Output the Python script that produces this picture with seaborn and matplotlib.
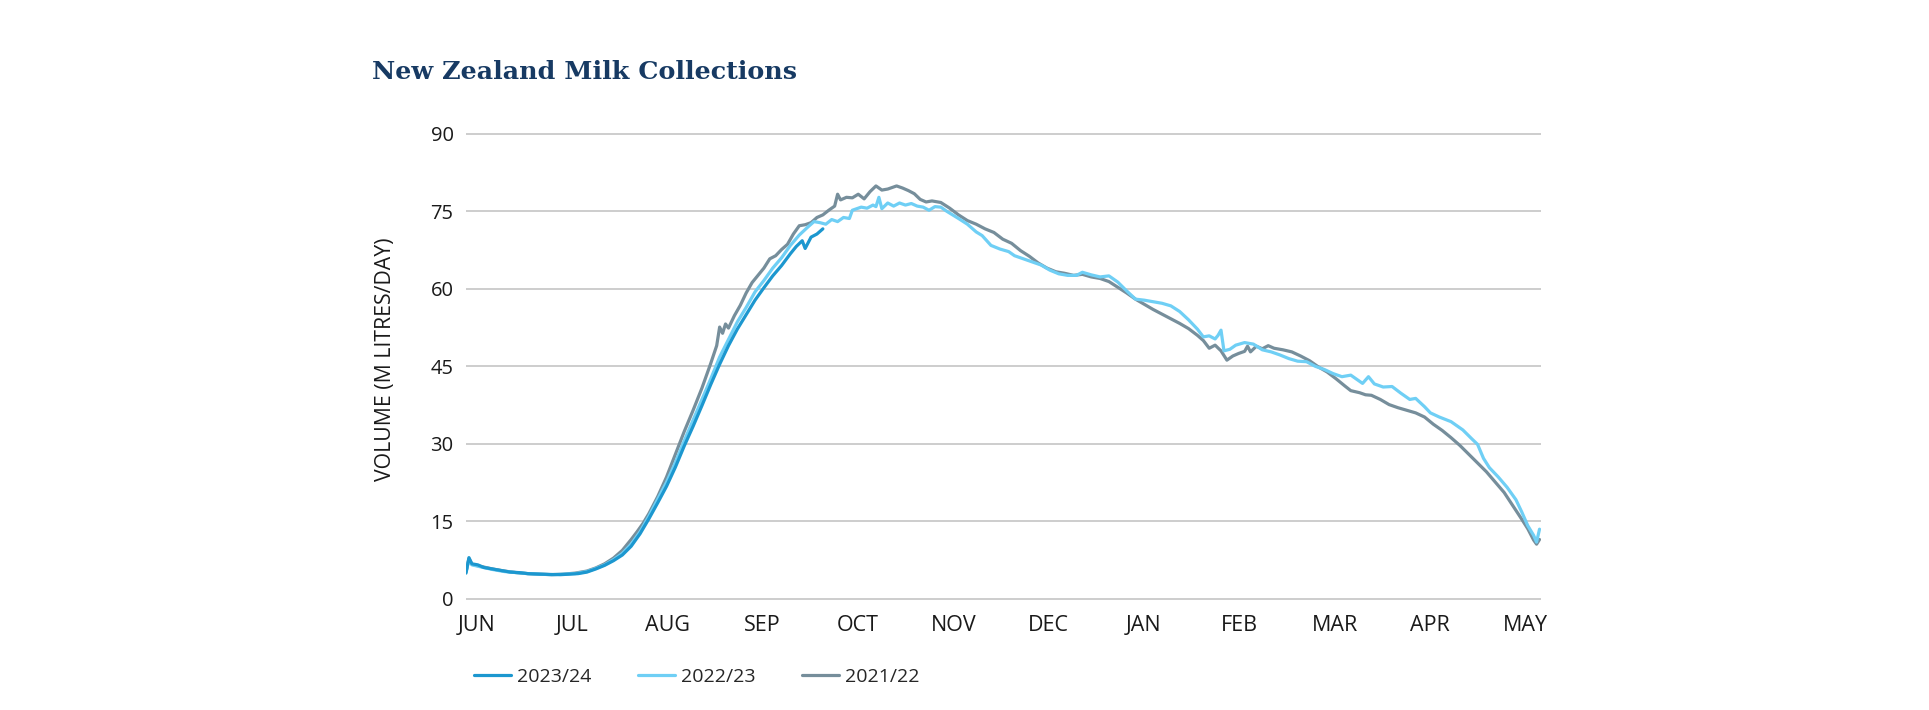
import numpy as np
import pandas as pd
import matplotlib
matplotlib.use("Agg")
import matplotlib.pyplot as plt
import seaborn as sns

# ---- data, x = day of season from 1 June ----
month_labels = ['JUN', 'JUL', 'AUG', 'SEP', 'OCT', 'NOV', 'DEC', 'JAN', 'FEB', 'MAR', 'APR', 'MAY']
y_ticks = [0, 15, 30, 45, 60, 75, 90]

days_2324 = [0, 1, 2, 4, 6, 9, 12, 15, 18, 21, 25, 28, 32, 35, 38, 41, 44, 47, 50, 53,
             56, 59, 62, 65, 68, 71, 74, 77, 80, 83, 86, 89, 92, 95, 98, 101, 104, 107,
             110, 112, 114, 115, 117, 119, 121]
vol_2324 = [5.0, 8.0, 6.8, 6.6, 6.1, 5.8, 5.5, 5.2, 5.1, 4.9, 4.8, 4.75, 4.7, 4.8, 4.9,
            5.2, 5.8, 6.5, 7.4, 8.5, 10.2, 12.6, 15.5, 18.6, 21.8, 25.5, 29.6, 33.4,
            37.4, 41.5, 45.4, 49.0, 52.2, 55.0, 57.8, 60.2, 62.5, 64.5, 66.8, 68.2,
            69.3, 67.8, 70.0, 70.6, 71.6]

days_2223 = [0, 1, 2, 5, 9, 13, 17, 21, 25, 29, 33, 37, 41, 44, 47, 50, 53, 56, 59, 62,
             65, 68, 71, 74, 77, 80, 83, 86, 89, 92, 95, 98, 101, 104, 107, 110, 113,
             116, 118, 120, 122, 124, 126, 128, 130, 131, 134, 136, 138, 139, 140, 141,
             143, 145, 147, 149, 151, 153, 155, 157, 159, 161, 163, 165, 167, 170, 173,
             175, 178, 181, 184, 186, 189, 192, 195, 198, 201, 204, 207, 209, 212, 215,
             218, 221, 224, 227, 230, 233, 236, 239, 242, 245, 248, 250, 252, 254, 255,
             256, 257, 259, 261, 264, 267, 270, 273, 276, 279, 282, 285, 288, 291, 294,
             297, 300, 302, 304, 306, 308, 311, 314, 317, 320, 322, 325, 327, 330, 334,
             338, 341, 343, 345, 347, 350, 353, 356, 358, 360, 362, 363, 364]
vol_2223 = [5.2, 7.6, 6.6, 6.2, 5.7, 5.3, 5.1, 4.9, 4.8, 4.7, 4.8, 4.9, 5.3, 5.9, 6.6,
            7.6, 8.8, 10.6, 13.0, 16.0, 19.3, 22.6, 26.4, 30.6, 34.6, 38.6, 42.6, 46.8,
            50.2, 53.6, 56.4, 59.4, 61.6, 64.0, 66.0, 68.4, 70.4, 72.0, 73.0, 72.8, 72.5,
            73.4, 73.0, 73.8, 73.6, 75.2, 75.8, 75.6, 76.2, 75.9, 77.7, 75.5, 76.6, 76.0,
            76.6, 76.2, 76.5, 76.0, 75.8, 75.2, 75.9, 75.8, 75.0, 74.3, 73.6, 72.5, 71.0,
            70.3, 68.4, 67.7, 67.2, 66.4, 65.8, 65.2, 64.6, 63.6, 62.9, 62.6, 62.6, 63.2,
            62.7, 62.3, 62.5, 61.3, 59.6, 58.0, 57.8, 57.5, 57.2, 56.7, 55.6, 54.0, 52.2,
            50.7, 50.9, 50.3, 51.0, 52.0, 48.0, 48.3, 49.1, 49.6, 49.3, 48.2, 47.8, 47.2,
            46.5, 46.0, 45.9, 45.0, 44.4, 43.6, 43.0, 43.3, 42.5, 41.7, 43.0, 41.6, 41.0,
            41.1, 39.8, 38.6, 38.8, 37.2, 36.0, 35.2, 34.3, 32.7, 31.0, 29.9, 27.2, 25.4,
            23.6, 21.6, 19.2, 16.8, 14.2, 12.3, 11.0, 13.5]

days_2122 = [0, 1, 2, 5, 9, 13, 17, 21, 25, 29, 33, 37, 41, 44, 47, 50, 53, 56, 58, 60,
             62, 65, 68, 71, 74, 77, 80, 83, 85, 86, 87, 88, 89, 91, 93, 95, 97, 99, 101,
             103, 105, 107, 109, 111, 113, 115, 117, 119, 121, 123, 125, 126, 127, 129,
             131, 133, 135, 137, 139, 141, 143, 146, 148, 150, 152, 154, 156, 158, 161,
             164, 167, 170, 173, 176, 179, 182, 185, 188, 191, 194, 197, 200, 203, 206,
             209, 212, 215, 218, 221, 224, 227, 230, 233, 236, 239, 242, 245, 248, 250,
             252, 254, 256, 258, 260, 262, 264, 265, 266, 268, 270, 272, 274, 277, 280,
             283, 286, 289, 292, 295, 298, 300, 303, 305, 307, 310, 313, 316, 319, 322,
             325, 328, 331, 334, 337, 340, 343, 346, 349, 352, 355, 358, 360, 362, 363, 364]
vol_2122 = [5.3, 7.8, 6.7, 6.3, 5.8, 5.4, 5.1, 4.9, 4.8, 4.7, 4.8, 5.0, 5.4, 6.0, 6.8,
            7.9, 9.4, 11.5, 13.0, 14.6, 16.5, 19.8, 23.6, 28.0, 32.4, 36.5, 40.8, 45.6,
            49.0, 52.6, 51.4, 53.2, 52.4, 54.8, 56.8, 59.2, 61.2, 62.6, 64.0, 65.8, 66.4,
            67.6, 68.6, 70.6, 72.2, 72.4, 72.8, 73.8, 74.3, 75.2, 76.0, 78.3, 77.2, 77.7,
            77.6, 78.3, 77.4, 78.8, 79.9, 79.1, 79.3, 79.9, 79.5, 79.0, 78.4, 77.3, 76.8,
            77.0, 76.7, 75.6, 74.3, 73.2, 72.5, 71.6, 70.9, 69.6, 68.8, 67.4, 66.3, 65.0,
            64.0, 63.3, 63.0, 62.6, 62.8, 62.3, 62.0, 61.4, 60.3, 59.2, 58.0, 57.0, 56.0,
            55.1, 54.2, 53.3, 52.3, 51.0, 50.0, 48.5, 49.1, 48.0, 46.2, 47.0, 47.5, 47.9,
            48.9, 47.8, 48.9, 48.4, 49.0, 48.5, 48.2, 47.8, 47.0, 46.1, 44.9, 43.9, 42.6,
            41.2, 40.3, 39.9, 39.5, 39.4, 38.6, 37.6, 37.0, 36.5, 36.0, 35.2, 33.8, 32.6,
            31.2, 29.7, 28.0, 26.3, 24.6, 22.6, 20.6, 18.0, 15.4, 13.6, 11.4, 10.6, 11.5]

seasons = ['2023/24', '2022/23', '2021/22']
colors = {'2023/24': '#1c97cf', '2022/23': '#6fcff5', '2021/22': '#768e9b'}


def build_frame():
    frames = []
    for season, d, v in [('2023/24', days_2324, vol_2324),
                         ('2022/23', days_2223, vol_2223),
                         ('2021/22', days_2122, vol_2122)]:
        frames.append(pd.DataFrame({'day': d, 'volume': v, 'season': season}))
    return pd.concat(frames, ignore_index=True)


def main():
    df = build_frame()

    sns.set_theme(style='white')
    plt.rcParams['font.family'] = ['Open Sans', 'DejaVu Sans']

    fig = plt.figure(figsize=(19.29, 7.10), dpi=100)
    ax = fig.add_axes([466 / 1929, 1 - 600 / 710, 1075 / 1929, 467.3 / 710])

    # draw the oldest season first so the current one sits on top
    for season in seasons[::-1]:
        sns.lineplot(ax=ax, data=df[df['season'] == season], x='day', y='volume',
                     color=colors[season], linewidth=2.3, label=season, estimator=None)

    ax.set_xlim(0, 364.5)
    ax.set_ylim(-0.2, 90.2)
    ax.set_yticks(y_ticks)
    ax.set_yticklabels([str(t) for t in y_ticks])
    ax.set_xticks(np.linspace(3.6, 359.2, len(month_labels)))
    ax.set_xticklabels(month_labels)
    ax.tick_params(axis='both', length=0, labelcolor='#1a1a1a')
    ax.tick_params(axis='y', pad=9, labelsize=14.5)
    ax.tick_params(axis='x', pad=11, labelsize=15.5)
    ax.grid(axis='y', color='#c9c9c9', linewidth=1.3)
    ax.grid(axis='x', visible=False)
    for s in ax.spines.values():
        s.set_visible(False)
    ax.set_xlabel('')
    ax.set_ylabel('')

    fig.text(385 / 1929, 1 - 359 / 710, 'VOLUME (M LITRES/DAY)', rotation=90,
             ha='center', va='center', fontsize=15.3, color='#1a1a1a')

    fig.text(372 / 1929, 1 - 79 / 710, 'New Zealand Milk Collections',
             ha='left', va='baseline', fontsize=18.3, fontweight='heavy',
             color='#173a63', family=['DejaVu Serif'])

    handles, labels = ax.get_legend_handles_labels()
    order = [labels.index(s) for s in seasons]
    ax.legend([handles[i] for i in order], [labels[i] for i in order],
              loc='center left', bbox_to_anchor=(474 / 1929, 1 - 677 / 710),
              bbox_transform=fig.transFigure, ncol=3, frameon=False,
              fontsize=14, handlelength=1.9, handletextpad=0.3, columnspacing=2.4,
              borderaxespad=0, borderpad=0)

    fig.savefig('out.png', dpi=100, facecolor='white')


if __name__ == "__main__":
    main()
